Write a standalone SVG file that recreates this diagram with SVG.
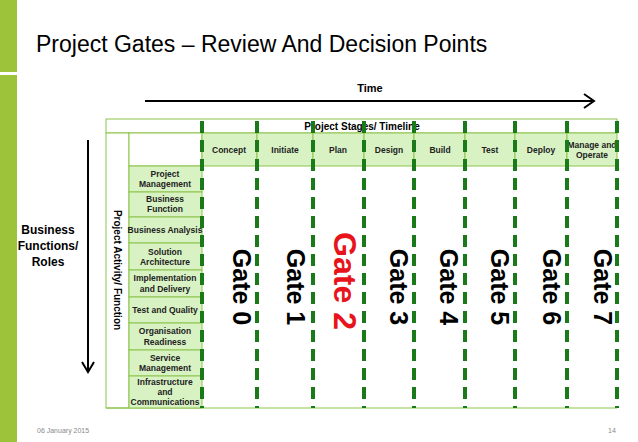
<svg xmlns="http://www.w3.org/2000/svg" width="638" height="442" viewBox="0 0 638 442">
<style>
text{font-family:"Liberation Sans",Arial,sans-serif;fill:#000}
.cell{fill:#d9f2c4;stroke:#8cc34a;stroke-width:1}
.wcell{fill:#fff;stroke:#8cc34a;stroke-width:1}
.lbl{font-size:8.5px;font-weight:bold;text-anchor:middle;fill:#222}
.gate{stroke:#1a7a1a;stroke-width:4;stroke-dasharray:12 7}
.g{font-size:25px;font-weight:bold;text-anchor:middle}
.arr{stroke:#000;stroke-width:2;fill:none}
</style>
<rect width="638" height="442" fill="#fff"/>
<rect x="0" y="0" width="17" height="72" fill="#9dc33b"/>
<rect x="0" y="75" width="17" height="367" fill="#9dc33b"/>
<text x="36" y="52" font-size="23">Project Gates – Review And Decision Points</text>
<g id="connectors">
<line class="arr" x1="145" y1="101" x2="594" y2="101"/>
<polyline class="arr" points="584,94 594,101 584,108"/>
<line class="arr" x1="88" y1="140" x2="88" y2="372"/>
<polyline class="arr" points="82,362 88,372 94,362"/>
</g>
<text x="370" y="92" font-size="11" font-weight="bold" text-anchor="middle">Time</text>
<g id="roles"><text x="48" y="234" font-size="12" font-weight="bold" text-anchor="middle">Business</text><text x="48" y="250" font-size="12" font-weight="bold" text-anchor="middle">Functions/</text><text x="48" y="266" font-size="12" font-weight="bold" text-anchor="middle">Roles</text></g>
<g id="table">
<rect class="wcell" x="106" y="119" width="511" height="14"/>
<text x="362" y="130" font-size="10" font-weight="bold" text-anchor="middle">Project Stages/ Timeline</text>
<rect class="wcell" x="106" y="133" width="23" height="275"/>
<text transform="translate(114,270) rotate(90)" font-size="10" font-weight="bold" text-anchor="middle">Project Activity/ Function</text>
<rect class="wcell" x="129" y="133" width="73" height="33"/>
<line x1="106" y1="408" x2="617" y2="408" stroke="#8cc34a"/>
</g>
<g id="stages">
<rect class="cell" x="202" y="133" width="55" height="33"/><text class="lbl" x="229" y="153">Concept</text>
<rect class="cell" x="257" y="133" width="56" height="33"/><text class="lbl" x="285" y="153">Initiate</text>
<rect class="cell" x="313" y="133" width="51" height="33"/><text class="lbl" x="338" y="153">Plan</text>
<rect class="cell" x="364" y="133" width="50" height="33"/><text class="lbl" x="389" y="153">Design</text>
<rect class="cell" x="414" y="133" width="51" height="33"/><text class="lbl" x="440" y="153">Build</text>
<rect class="cell" x="465" y="133" width="50" height="33"/><text class="lbl" x="490" y="153">Test</text>
<rect class="cell" x="515" y="133" width="52" height="33"/><text class="lbl" x="541" y="153">Deploy</text>
<rect class="cell" x="567" y="133" width="50" height="33"/><text class="lbl" x="592" y="148">Manage and</text><text class="lbl" x="592" y="158">Operate</text>
</g>
<g id="rows">
<rect class="cell" x="129" y="166" width="73" height="26"/><text class="lbl" x="165" y="177">Project</text><text class="lbl" x="165" y="187">Management</text>
<rect class="cell" x="129" y="192" width="73" height="25"/><text class="lbl" x="165" y="202">Business</text><text class="lbl" x="165" y="212">Function</text>
<rect class="cell" x="129" y="217" width="73" height="26"/><text class="lbl" x="165" y="233">Business Analysis</text>
<rect class="cell" x="129" y="243" width="73" height="27"/><text class="lbl" x="165" y="255">Solution</text><text class="lbl" x="165" y="265">Architecture</text>
<rect class="cell" x="129" y="270" width="73" height="27"/><text class="lbl" x="165" y="281">Implementation</text><text class="lbl" x="165" y="292">and Delivery</text>
<rect class="cell" x="129" y="297" width="73" height="26"/><text class="lbl" x="165" y="313">Test and Quality</text>
<rect class="cell" x="129" y="323" width="73" height="27"/><text class="lbl" x="165" y="334">Organisation</text><text class="lbl" x="165" y="345">Readiness</text>
<rect class="cell" x="129" y="350" width="73" height="26"/><text class="lbl" x="165" y="361">Service</text><text class="lbl" x="165" y="371">Management</text>
<rect class="cell" x="129" y="376" width="73" height="32"/><text class="lbl" x="165" y="385">Infrastructure</text><text class="lbl" x="165" y="395">and</text><text class="lbl" x="165" y="405">Communications</text>
</g>
<g id="gatelines">
<line class="gate" x1="202" y1="121" x2="202" y2="408"/>
<line class="gate" x1="257" y1="121" x2="257" y2="408"/>
<line class="gate" x1="313" y1="121" x2="313" y2="408"/>
<line class="gate" x1="364" y1="121" x2="364" y2="408"/>
<line class="gate" x1="414" y1="121" x2="414" y2="408"/>
<line class="gate" x1="465" y1="121" x2="465" y2="408"/>
<line class="gate" x1="515" y1="121" x2="515" y2="408"/>
<line class="gate" x1="567" y1="121" x2="567" y2="408"/>
<line class="gate" x1="617" y1="121" x2="617" y2="408"/>
</g>
<g id="gates">
<text class="g" transform="translate(233,287) rotate(90)">Gate 0</text>
<text class="g" transform="translate(287,287) rotate(90)">Gate 1</text>
<text class="g" style="fill:#e8141b;font-size:32px" transform="translate(334,281) rotate(90)">Gate 2</text>
<text class="g" transform="translate(390,287) rotate(90)">Gate 3</text>
<text class="g" transform="translate(440,287) rotate(90)">Gate 4</text>
<text class="g" transform="translate(491,287) rotate(90)">Gate 5</text>
<text class="g" transform="translate(543,287) rotate(90)">Gate 6</text>
<text class="g" transform="translate(594,287) rotate(90)">Gate 7</text>
</g>
<text x="37" y="433" font-size="7" style="fill:#888">06 January 2015</text>
<text x="608" y="433" font-size="7" style="fill:#888">14</text>
</svg>
